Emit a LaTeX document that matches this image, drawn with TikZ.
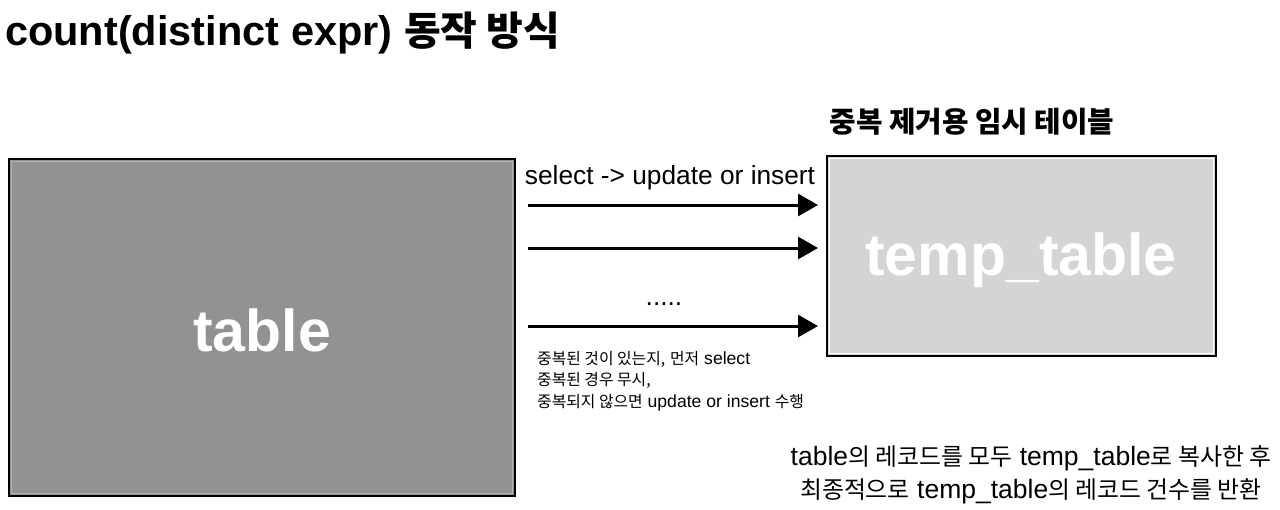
\documentclass[tikz,border=0pt]{standalone}
\usepackage{fontspec}
\setmainfont{Liberation Sans}
\newfontfamily\kr[Scale=0.9]{Noto Sans CJK KR}
\newfontfamily\krbig[Scale=0.96]{Noto Sans CJK KR}
\newfontfamily\krsmall[Scale=0.9]{Noto Sans CJK KR}
\usetikzlibrary{arrows.meta}
\definecolor{boxdark}{RGB}{146,146,146}
\definecolor{boxlight}{RGB}{212,212,212}
\begin{document}
\begin{tikzpicture}[x=1pt,y=-1pt,
  titletext/.style={font=\bfseries\fontsize{41.5}{44}\selectfont, anchor=base west, inner sep=0pt},
  headtext/.style={font=\bfseries\fontsize{32}{34}\selectfont, inner sep=0pt},
  bigwhite/.style={font=\bfseries\fontsize{59}{61}\selectfont, text=white, inner sep=0pt},
  tablebox/.style={draw=black, line width=2.6pt, inner sep=0pt},
  innerline/.style={draw=white, line width=0.8pt},
  labeltext/.style={font=\fontsize{26.3}{28}\selectfont, inner sep=0pt},
  notetext/.style={font=\fontsize{17.6}{21.5}\selectfont, align=left, anchor=north west, inner sep=0pt},
  bottomtext/.style={font=\fontsize{26.5}{33}\selectfont, align=center, inner sep=0pt},
  flow/.style={line width=3pt, -{Triangle[length=20pt,width=22pt]}}
]
\useasboundingbox (0,0) rectangle (1280,509);

\node[titletext] (title) at (5,45) {count(distinct expr) {\krbig 동작 방식}};

% left table box
\draw[tablebox, fill=boxdark] (9,159) rectangle (515,496);
\draw[draw=black!30, line width=0.8pt] (11.5,161.5) rectangle (512.5,493.5);
\node[tablebox, draw=none, minimum width=506pt, minimum height=337pt] (src) at (262,327.5) {};
\node[bigwhite] (srclabel) at (262,330) {table};

% right temp box
\draw[tablebox, fill=boxlight] (827,156) rectangle (1216,356);
\draw[innerline] (829.5,158.5) rectangle (1213.5,353.5);
\node[tablebox, draw=none, minimum width=389pt, minimum height=200pt] (tmp) at (1021.5,256) {};
\node[bigwhite] (tmplabel) at (1021,260) {temp\_table};

\node[headtext] (head) at (972,122) {\kr 중복 제거용 임시 테이블};

\node[labeltext] (op) at (670,178) {select -> update or insert};

\coordinate (a1s) at (528,205);
\coordinate (a1e) at (818,205);
\coordinate (a2s) at (528,248);
\coordinate (a2e) at (818,248);
\coordinate (a3s) at (528,326);
\coordinate (a3e) at (818,326);
\draw[flow] (a1s) -- (a1e);
\draw[flow] (a2s) -- (a2e);
\draw[flow] (a3s) -- (a3e);

\node[labeltext] (dots) at (664,304) {.....};

\node[notetext] (note) at (537,351) {{\krsmall 중복된 것이 있는지,} {\krsmall 먼저} select\\
{\krsmall 중복된 경우 무시,}\\
{\krsmall 중복되지 않으면} update or insert {\krsmall 수행}};

\node[bottomtext] (summary) at (1031,475) {table{\kr 의 레코드를 모두} temp\_table{\kr 로 복사한 후}\\
{\kr 최종적으로} temp\_table{\kr 의 레코드 건수를 반환}};
\end{tikzpicture}
\end{document}
